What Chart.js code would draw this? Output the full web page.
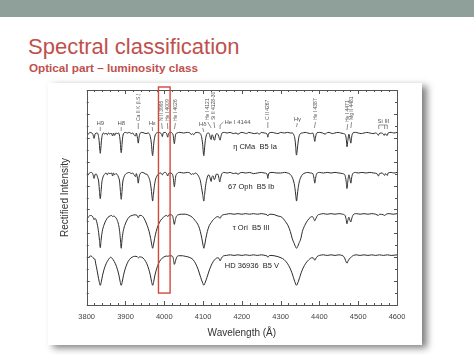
<!DOCTYPE html>
<html><head><meta charset="utf-8">
<script src="https://cdn.jsdelivr.net/npm/chart.js@4.4.0/dist/chart.umd.min.js"></script>
<style>
html,body{margin:0;padding:0;background:#fff;width:474px;height:355px;overflow:hidden;font-family:"Liberation Sans",Arial,sans-serif;}
#bar{position:absolute;left:0;top:0;width:474px;height:17px;background:#8f9f99;}
#title{position:absolute;left:28px;top:36px;font-size:22px;line-height:1;color:#c0504d;white-space:nowrap;}
#sub{position:absolute;left:29px;top:61.5px;font-size:11.7px;line-height:1;font-weight:bold;color:#c0504d;white-space:nowrap;}
#frame{position:absolute;left:48px;top:83px;width:374px;height:262px;background:#fff;box-shadow:5px 3px 7px rgba(0,0,0,0.5);}
#c{position:absolute;left:0;top:0;}
</style></head>
<body>
<div id="bar"></div>
<div id="title">Spectral classification</div>
<div id="sub">Optical part – luminosity class</div>
<div id="frame"></div>
<canvas id="c" width="474" height="355"></canvas>
<script>
// ---------- DATA ----------
const starNames = ["η CMa  B5 Ia", "67 Oph  B5 Ib", "τ Ori  B5 III", "HD 36936  B5 V"];
const starOffsets = [1.89, 1.22, 0.53, -0.16];
const xTicks = [3800, 3900, 4000, 4100, 4200, 4300, 4400, 4500, 4600];
const boxRange = [3985, 4015];
const lineLabels = ["H9","H8","Ca II K (I.S.)","Hε","N II 3995","He I 4009","He I 4026","Hδ","He I 4121","Si II 4128-30","He I 4144","C II 4267","Hγ","He I 4387","He I 4471","Mg II 4481","Si III"];
const lineWaves = [3835,3889,3933,3970,3995,4009,4026,4102,4121,4130,4144,4267,4341,4387,4471,4481,4565];

// rectified intensity spectra: [wavelength (Å), intensity]
const specEtaCMa = [[3800,0.99],[3804,0.97],[3808,1.0],[3813,0.99],[3816,0.97],[3819,0.9],[3822,0.98],[3827,0.99],[3830,0.95],[3832,0.86],[3834,0.7],[3835,0.65],[3836,0.7],[3838,0.86],[3840,0.95],[3843,0.99],[3847,0.97],[3850,0.99],[3853,0.96],[3856,0.99],[3860,0.97],[3863,0.99],[3867,0.94],[3869,0.99],[3872,0.95],[3875,0.99],[3879,0.98],[3882,0.99],[3885,0.93],[3887,0.8],[3888,0.7],[3889,0.66],[3890,0.7],[3891,0.8],[3893,0.93],[3896,0.99],[3900,1.0],[3905,0.99],[3910,1.0],[3915,0.98],[3919,0.99],[3922,0.96],[3926,0.94],[3928,0.99],[3931,0.9],[3933,0.82],[3935,0.92],[3938,0.99],[3942,1.0],[3948,0.99],[3953,0.98],[3958,0.99],[3961,0.98],[3964,0.93],[3967,0.8],[3969,0.64],[3970,0.61],[3971,0.66],[3973,0.82],[3976,0.94],[3980,0.99],[3985,1.0],[3990,0.99],[3993,0.97],[3995,0.93],[3997,0.99],[4002,1.0],[4006,0.98],[4009,0.92],[4011,0.98],[4016,1.0],[4020,0.99],[4023,0.95],[4025,0.84],[4026,0.81],[4027,0.85],[4029,0.96],[4033,0.99],[4040,1.0],[4050,0.99],[4060,1.0],[4068,0.98],[4070,0.96],[4073,0.98],[4076,0.96],[4079,0.99],[4085,1.0],[4090,0.99],[4093,0.98],[4096,0.93],[4099,0.8],[4101,0.64],[4102,0.61],[4103,0.66],[4105,0.82],[4108,0.94],[4112,0.99],[4116,0.98],[4119,0.9],[4121,0.88],[4123,0.96],[4126,0.93],[4128,0.88],[4130,0.87],[4132,0.94],[4135,0.98],[4139,0.96],[4142,0.9],[4144,0.87],[4146,0.93],[4149,0.99],[4155,1.0],[4162,0.99],[4170,1.0],[4178,0.98],[4185,0.99],[4190,0.97],[4195,0.99],[4200,1.0],[4207,0.99],[4212,0.98],[4218,1.0],[4225,0.99],[4233,0.98],[4240,0.99],[4245,0.97],[4250,1.0],[4258,0.99],[4264,0.98],[4266,0.95],[4267,0.92],[4268,0.95],[4270,0.99],[4278,1.0],[4285,0.99],[4293,0.98],[4300,1.0],[4310,0.99],[4318,1.0],[4325,0.99],[4330,0.99],[4334,0.96],[4337,0.88],[4339,0.75],[4340,0.65],[4341,0.62],[4342,0.66],[4344,0.78],[4347,0.92],[4351,0.98],[4356,0.99],[4363,1.0],[4370,0.99],[4377,0.98],[4383,0.99],[4386,0.92],[4388,0.85],[4390,0.92],[4393,0.99],[4400,1.0],[4408,0.99],[4415,0.97],[4418,0.99],[4425,1.0],[4433,0.98],[4440,0.99],[4448,1.0],[4455,0.99],[4462,0.98],[4467,0.96],[4470,0.84],[4471,0.76],[4473,0.85],[4476,0.97],[4479,0.88],[4481,0.82],[4483,0.92],[4486,0.99],[4493,1.0],[4500,0.99],[4508,0.98],[4515,0.99],[4522,1.0],[4530,0.99],[4538,0.98],[4545,0.99],[4550,0.97],[4552,0.95],[4554,0.98],[4560,0.99],[4565,0.97],[4567,0.95],[4569,0.98],[4572,0.96],[4575,0.95],[4577,0.99],[4585,1.0],[4592,0.99],[4600,1.0]];

const spec67Oph = [[3800,0.97],[3804,0.96],[3807,0.99],[3812,1.0],[3816,0.97],[3819,0.9],[3822,0.97],[3825,0.97],[3828,0.92],[3831,0.84],[3833,0.68],[3835,0.56],[3837,0.68],[3839,0.83],[3842,0.92],[3846,0.97],[3850,0.99],[3853,0.96],[3856,0.99],[3860,0.98],[3864,0.99],[3867,0.94],[3869,0.99],[3872,0.96],[3875,0.98],[3878,0.97],[3882,0.92],[3885,0.84],[3887,0.68],[3889,0.55],[3891,0.68],[3893,0.84],[3896,0.92],[3900,0.97],[3905,0.99],[3910,1.0],[3915,0.98],[3919,0.99],[3922,0.96],[3926,0.93],[3928,0.98],[3931,0.9],[3933,0.82],[3935,0.92],[3938,0.98],[3943,1.0],[3948,0.99],[3953,0.97],[3955,0.97],[3959,0.93],[3963,0.86],[3966,0.74],[3968,0.62],[3970,0.52],[3972,0.63],[3974,0.75],[3977,0.87],[3981,0.94],[3986,0.98],[3991,0.99],[3995,0.96],[3998,0.99],[4003,1.0],[4006,0.98],[4009,0.94],[4011,0.98],[4015,0.99],[4020,0.98],[4023,0.92],[4025,0.8],[4026,0.76],[4027,0.8],[4029,0.92],[4033,0.98],[4040,1.0],[4050,0.99],[4060,1.0],[4068,0.98],[4070,0.96],[4073,0.98],[4076,0.97],[4080,0.99],[4085,0.97],[4089,0.93],[4093,0.86],[4096,0.75],[4099,0.63],[4102,0.52],[4104,0.63],[4106,0.75],[4109,0.87],[4112,0.94],[4115,0.96],[4118,0.91],[4121,0.85],[4123,0.93],[4126,0.94],[4129,0.88],[4131,0.9],[4134,0.97],[4138,0.97],[4141,0.9],[4143,0.84],[4145,0.9],[4148,0.97],[4153,1.0],[4162,0.99],[4170,1.0],[4178,0.98],[4185,0.99],[4190,0.97],[4195,0.99],[4200,1.0],[4210,0.99],[4220,1.0],[4230,0.98],[4240,0.99],[4250,1.0],[4258,0.99],[4264,0.98],[4266,0.94],[4267,0.9],[4268,0.94],[4270,0.99],[4280,1.0],[4290,0.99],[4300,0.99],[4310,1.0],[4318,0.99],[4322,0.98],[4327,0.95],[4331,0.9],[4334,0.84],[4337,0.73],[4339,0.62],[4341,0.52],[4343,0.62],[4345,0.73],[4348,0.84],[4352,0.92],[4357,0.97],[4363,0.99],[4370,1.0],[4377,0.99],[4383,0.98],[4386,0.9],[4388,0.82],[4390,0.9],[4393,0.98],[4400,1.0],[4410,0.99],[4420,1.0],[4430,0.99],[4440,1.0],[4450,0.99],[4460,0.98],[4466,0.95],[4469,0.85],[4471,0.73],[4473,0.84],[4476,0.96],[4479,0.88],[4481,0.82],[4483,0.91],[4486,0.98],[4493,1.0],[4500,0.99],[4510,1.0],[4520,0.99],[4530,1.0],[4540,0.99],[4548,0.98],[4552,0.94],[4555,0.98],[4562,0.99],[4566,0.96],[4568,0.95],[4570,0.98],[4573,0.96],[4575,0.95],[4577,0.99],[4585,1.0],[4592,0.99],[4600,1.0]];

const specTauOri = [[3800,0.9],[3805,0.95],[3810,0.97],[3814,0.96],[3817,0.93],[3819,0.9],[3821,0.92],[3824,0.9],[3827,0.83],[3830,0.72],[3833,0.55],[3835,0.43],[3837,0.55],[3840,0.7],[3844,0.8],[3849,0.88],[3855,0.94],[3860,0.96],[3864,0.97],[3867,0.95],[3870,0.96],[3874,0.94],[3878,0.9],[3882,0.82],[3885,0.7],[3887,0.56],[3889,0.42],[3891,0.56],[3894,0.7],[3898,0.8],[3903,0.88],[3909,0.94],[3917,0.97],[3925,0.98],[3930,0.97],[3933,0.93],[3936,0.97],[3940,0.97],[3946,0.94],[3951,0.88],[3956,0.8],[3961,0.7],[3965,0.58],[3968,0.47],[3970,0.42],[3972,0.47],[3975,0.58],[3979,0.7],[3984,0.8],[3990,0.88],[3998,0.94],[4006,0.97],[4009,0.95],[4012,0.98],[4018,0.98],[4022,0.95],[4024,0.88],[4026,0.82],[4028,0.88],[4031,0.95],[4036,0.98],[4045,0.99],[4055,0.99],[4064,0.97],[4072,0.94],[4080,0.88],[4088,0.8],[4093,0.7],[4097,0.58],[4100,0.47],[4102,0.42],[4104,0.47],[4107,0.58],[4111,0.7],[4116,0.8],[4121,0.85],[4124,0.88],[4130,0.92],[4137,0.95],[4141,0.94],[4144,0.92],[4147,0.96],[4152,0.98],[4160,0.99],[4170,1.0],[4180,0.99],[4190,1.0],[4200,0.99],[4210,1.0],[4220,0.99],[4230,1.0],[4240,0.99],[4250,1.0],[4260,0.99],[4265,0.98],[4267,0.96],[4269,0.98],[4275,0.99],[4285,0.98],[4293,0.96],[4303,0.94],[4311,0.88],[4319,0.8],[4325,0.7],[4330,0.58],[4335,0.5],[4338,0.45],[4341,0.42],[4344,0.45],[4347,0.5],[4352,0.58],[4356,0.7],[4362,0.8],[4369,0.88],[4377,0.94],[4382,0.95],[4385,0.92],[4388,0.88],[4391,0.92],[4395,0.97],[4402,0.99],[4410,1.0],[4420,0.99],[4430,1.0],[4440,0.99],[4450,1.0],[4460,0.99],[4466,0.97],[4469,0.9],[4471,0.83],[4473,0.88],[4476,0.94],[4479,0.88],[4481,0.86],[4483,0.91],[4487,0.98],[4495,1.0],[4505,0.99],[4515,1.0],[4525,0.99],[4535,1.0],[4545,0.99],[4552,0.97],[4555,0.99],[4565,0.98],[4568,0.97],[4572,0.99],[4580,1.0],[4590,0.99],[4600,1.0]];

const specHD36936 = [[3800,0.92],[3805,0.96],[3810,0.98],[3814,0.97],[3817,0.95],[3819,0.93],[3821,0.93],[3823,0.86],[3825,0.8],[3829,0.66],[3832,0.56],[3835,0.49],[3838,0.56],[3841,0.66],[3845,0.76],[3850,0.85],[3856,0.92],[3862,0.96],[3868,0.92],[3874,0.85],[3879,0.76],[3883,0.66],[3886,0.56],[3889,0.49],[3892,0.56],[3895,0.66],[3899,0.76],[3904,0.85],[3910,0.92],[3917,0.96],[3924,0.975],[3930,0.97],[3933,0.95],[3936,0.965],[3942,0.96],[3949,0.92],[3955,0.85],[3960,0.76],[3964,0.66],[3967,0.56],[3970,0.49],[3973,0.56],[3976,0.66],[3980,0.76],[3985,0.85],[3991,0.92],[3998,0.96],[4006,0.98],[4009,0.975],[4014,0.985],[4020,0.98],[4023,0.95],[4026,0.84],[4029,0.9],[4032,0.96],[4038,0.985],[4046,0.985],[4054,0.975],[4064,0.96],[4074,0.92],[4081,0.85],[4087,0.76],[4092,0.66],[4096,0.58],[4099,0.53],[4102,0.49],[4105,0.53],[4108,0.58],[4112,0.66],[4117,0.76],[4123,0.85],[4130,0.92],[4137,0.95],[4141,0.94],[4144,0.9],[4147,0.94],[4152,0.98],[4160,0.99],[4170,1.0],[4180,0.99],[4190,1.0],[4200,0.99],[4210,1.0],[4220,0.99],[4230,1.0],[4240,0.99],[4250,1.0],[4260,0.99],[4265,0.98],[4267,0.96],[4269,0.98],[4275,0.99],[4283,0.985],[4293,0.97],[4301,0.95],[4309,0.92],[4317,0.86],[4324,0.78],[4329,0.7],[4333,0.62],[4336,0.56],[4339,0.51],[4341,0.49],[4343,0.51],[4346,0.56],[4349,0.62],[4353,0.7],[4358,0.78],[4365,0.86],[4373,0.92],[4380,0.95],[4384,0.95],[4386,0.93],[4388,0.91],[4390,0.93],[4394,0.97],[4400,0.99],[4410,1.0],[4420,0.99],[4430,1.0],[4440,0.99],[4450,1.0],[4458,0.99],[4463,0.97],[4466,0.93],[4469,0.88],[4471,0.86],[4474,0.9],[4477,0.93],[4480,0.95],[4483,0.97],[4488,0.99],[4495,1.0],[4505,0.99],[4515,1.0],[4525,0.99],[4535,1.0],[4545,0.99],[4555,1.0],[4565,0.99],[4575,1.0],[4585,0.99],[4600,1.0]];

const spectra = [specEtaCMa, spec67Oph, specTauOri, specHD36936];

// ---------- CHART ----------
const FONT = '"Liberation Sans", Arial, sans-serif';
Chart.defaults.font.family = FONT;

const datasets = spectra.map((s, k) => ({
  label: starNames[k],
  data: s.map(p => ({x: p[0], y: p[1] + starOffsets[k]})),
  borderColor: '#2b2b2b', borderWidth: 1, pointRadius: 0, fill: false,
  cubicInterpolationMode: 'monotone'
}));

// label layout: kind, text-wavelength shift (Å), text y (px from chart top)
const labelStyle = [
  ['h',0,33],['h',0,33],['v',0,31],['h',-1,33],['v',-2,31],['v',-1,31],['v',3,31],['h',-3,34],
  ['v',-9,30],['v',-2,30],['hl',6,32],['v',0,30],['h',2,29],['v',3,30],['v',2,32],['v',2,30],['br',0,31]
];
const starLabelPos = [[4234,2.65],[4224,1.98],[4224,1.29],[4226,0.66]];

const decor = {
  id: 'decor',
  afterDatasetsDraw(chart) {
    const {ctx, chartArea: a, scales: {x, y}} = chart;
    ctx.save();
    ctx.strokeStyle = '#555'; ctx.lineWidth = 1;
    ctx.strokeRect(Math.round(a.left)+0.5, Math.round(a.top)+0.5, Math.round(a.right-a.left), Math.round(a.bottom-a.top));
    ctx.beginPath();
    for (let v = 3800; v <= 4600; v += 20) {
      const px = Math.round(x.getPixelForValue(v)) + 0.5;
      const len = (v % 100 === 0) ? 4 : 2;
      ctx.moveTo(px, a.bottom); ctx.lineTo(px, a.bottom - len);
      ctx.moveTo(px, a.top); ctx.lineTo(px, a.top + len);
    }
    for (let k = 0; k <= 18; k++) {
      const py = Math.round(y.getPixelForValue(k * 0.2)) + 0.5;
      const len = (k % 2 === 0) ? 3 : 2;
      ctx.moveTo(a.left, py); ctx.lineTo(a.left + len, py);
      ctx.moveTo(a.right, py); ctx.lineTo(a.right - len, py);
    }
    ctx.stroke();

    ctx.strokeStyle = '#d2483b'; ctx.lineWidth = 1.4;
    const bx0 = x.getPixelForValue(boxRange[0]), bx1 = x.getPixelForValue(boxRange[1]);
    const by0 = a.top - 3, by1 = y.getPixelForValue(0.2);
    ctx.strokeRect(bx0, by0, bx1 - bx0, by1 - by0);

    ctx.fillStyle = '#555'; ctx.strokeStyle = '#777'; ctx.lineWidth = 0.8;
    lineLabels.forEach((t, i) => {
      const [kind, shift, ty0] = labelStyle[i];
      const lx = x.getPixelForValue(lineWaves[i]);
      const tx = x.getPixelForValue(lineWaves[i] + shift);
      const ty = a.top + ty0;
      if (kind === 'h') {
        ctx.font = '6px ' + FONT; ctx.textAlign = 'center'; ctx.textBaseline = 'middle';
        ctx.fillText(t, tx, ty);
        ctx.beginPath(); ctx.moveTo(tx, ty + 4); ctx.lineTo(lx, ty + 8); ctx.stroke();
      } else if (kind === 'v') {
        ctx.font = '5px ' + FONT;
        ctx.save(); ctx.translate(tx, ty); ctx.rotate(-Math.PI/2);
        ctx.textAlign = 'left'; ctx.textBaseline = 'middle';
        ctx.fillText(t, 0, 0); ctx.restore();
        ctx.beginPath(); ctx.moveTo(tx, ty + 2); ctx.lineTo(lx, ty + 8); ctx.stroke();
      } else if (kind === 'hl') {
        ctx.font = '6px ' + FONT; ctx.textAlign = 'left'; ctx.textBaseline = 'middle';
        ctx.fillText(t, tx + 2, ty);
        ctx.beginPath(); ctx.moveTo(lx, ty + 7); ctx.lineTo(lx, ty + 3); ctx.lineTo(tx + 1, ty); ctx.stroke();
      } else if (kind === 'br') {
        ctx.font = '6px ' + FONT; ctx.textAlign = 'center'; ctx.textBaseline = 'middle';
        ctx.fillText(t, tx, ty);
        const b0 = x.getPixelForValue(4553), b1 = x.getPixelForValue(4575), bm = x.getPixelForValue(4568);
        ctx.beginPath();
        ctx.moveTo(b0, ty + 8); ctx.lineTo(b0, ty + 4); ctx.lineTo(b1, ty + 4); ctx.lineTo(b1, ty + 8);
        ctx.moveTo(bm, ty + 4); ctx.lineTo(bm, ty + 8);
        ctx.stroke();
      }
    });

    ctx.fillStyle = '#222'; ctx.font = '7.5px ' + FONT; ctx.textAlign = 'center'; ctx.textBaseline = 'middle';
    starNames.forEach((n, k) => {
      ctx.fillText(n, x.getPixelForValue(starLabelPos[k][0]), y.getPixelForValue(starLabelPos[k][1]));
    });
    ctx.restore();
  }
};

new Chart(document.getElementById('c'), {
  type: 'line',
  data: {datasets},
  plugins: [decor],
  options: {
    responsive: false, animation: false, devicePixelRatio: 1,
    layout: {padding: {left: 59, top: 90, right: 77, bottom: 16}},
    plugins: {legend: {display: false}, tooltip: {enabled: false}},
    scales: {
      x: {
        type: 'linear', min: 3800, max: 4600,
        afterBuildTicks(s) { s.ticks = xTicks.map(v => ({value: v})); },
        grid: {display: false, drawTicks: false}, border: {display: false},
        ticks: {padding: 7, color: '#444', font: {size: 7.5}, maxRotation: 0, autoSkip: false, callback: v => String(v)},
        title: {display: true, text: 'Wavelength (Å)', color: '#333', font: {size: 10}, padding: {top: 0, bottom: 0}},
        afterFit(s) { s.height = 34; }
      },
      y: {
        min: 0, max: 3.6,
        grid: {display: false, drawTicks: false}, border: {display: false},
        ticks: {display: false},
        title: {display: true, text: 'Rectified Intensity', color: '#333', font: {size: 10}, padding: {top: 0, bottom: 0}},
        afterFit(s) { s.width = 27.7; }
      }
    }
  }
});
</script>
</body></html>
